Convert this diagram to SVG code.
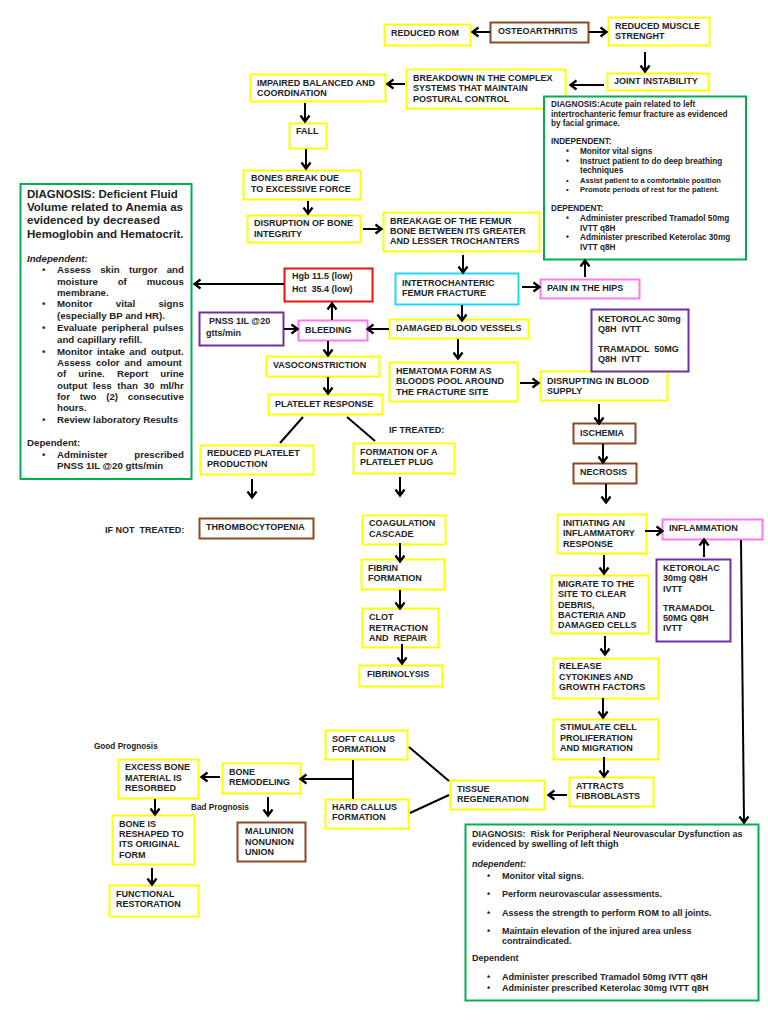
<svg xmlns="http://www.w3.org/2000/svg" width="768" height="1024" viewBox="0 0 768 1024">
<style>
text{font-family:"Liberation Sans",Arial,sans-serif;font-weight:bold;fill:#222;font-size:9px;white-space:pre}
rect{fill:#fff;stroke-width:2}
.y{stroke:#ffff00}.b{stroke:#8b4a24}.p{stroke:#ff78f0}.v{stroke:#7030a0}.g{stroke:#00b050}.r{stroke:#f01010}.c{stroke:#20d8f0}
.s{font-size:8.2px}.t{font-size:7.5px}.h{font-size:11.5px}.m{font-size:9.7px}.i{font-style:italic}
.l{stroke:#000;stroke-width:2;fill:none}.a{marker-end:url(#ah)}
</style>
<defs>
<marker id="ah" viewBox="0 0 12 12" refX="9" refY="6" markerWidth="12" markerHeight="12" markerUnits="userSpaceOnUse" orient="auto"><path d="M3.500,1.500 L9.500,6 L3.500,10.500" fill="none" stroke="#000" stroke-width="2.300"/></marker>
</defs>
<g id="n-rom"><rect class="y" x="384.500" y="24.500" width="86" height="21"/><text x="391" y="36">REDUCED ROM</text></g>
<g id="n-oa"><rect class="b" x="490.500" y="22.500" width="98" height="20"/><text x="498" y="34">OSTEOARTHRITIS</text></g>
<g id="n-muscle"><rect class="y" x="608.500" y="17.500" width="101" height="28"/><text x="615" y="29">REDUCED MUSCLE</text><text x="615" y="39">STRENGHT</text></g>
<g id="n-joint"><rect class="y" x="607.500" y="73.500" width="101" height="17"/><text x="614" y="84">JOINT INSTABILITY</text></g>
<g id="n-impaired"><rect class="y" x="250.500" y="74.500" width="135" height="27"/><text x="257" y="86">IMPAIRED BALANCED AND</text><text x="257" y="96">COORDINATION</text></g>
<g id="n-breakdown"><rect class="y" x="406.500" y="69.500" width="159" height="39"/><text x="413" y="81">BREAKDOWN IN THE COMPLEX</text><text x="413" y="91">SYSTEMS THAT MAINTAIN</text><text x="413" y="102">POSTURAL CONTROL</text></g>
<g id="n-dx-pain"><rect class="g" x="544" y="96.500" width="202" height="163"/>
<text class="s" x="551" y="107">DIAGNOSIS:Acute pain related to left</text><text class="s" x="551" y="117">intertrochanteric femur fracture as evidenced</text><text class="s" x="551" y="126">by facial grimace.</text><text class="s" x="551" y="144">INDEPENDENT:</text>
<text class="s" x="566" y="154">•</text><text class="s" x="580" y="154">Monitor vital signs</text>
<text class="s" x="566" y="164">•</text><text class="s" x="580" y="164">Instruct patient to do deep breathing</text><text class="s" x="580" y="173">techniques</text>
<text class="t" x="566" y="183">•</text><text class="t" x="580" y="183">Assist patient to a comfortable position</text>
<text class="t" x="566" y="192">•</text><text class="t" x="580" y="192">Promote periods of rest for the patient.</text>
<text class="s" x="551" y="211">DEPENDENT:</text>
<text class="s" x="566" y="221">•</text><text class="s" x="580" y="221">Administer prescribed Tramadol 50mg</text><text class="s" x="580" y="231">IVTT q8H</text>
<text class="s" x="566" y="240">•</text><text class="s" x="580" y="240">Administer prescribed Keterolac 30mg</text><text class="s" x="580" y="250">IVTT q8H</text></g>
<g id="n-fall"><rect class="y" x="289.500" y="123.500" width="37" height="25"/><text x="296" y="134">FALL</text></g>
<g id="n-bones"><rect class="y" x="243.500" y="170.500" width="117" height="29"/><text x="251" y="181">BONES BREAK DUE</text><text x="251" y="192">TO EXCESSIVE FORCE</text></g>
<g id="n-disruption"><rect class="y" x="247.500" y="215.500" width="113" height="27"/><text x="254" y="226">DISRUPTION OF BONE</text><text x="254" y="237">INTEGRITY</text></g>
<g id="n-breakage"><rect class="y" x="383.500" y="212.500" width="156" height="39"/><text x="390" y="224">BREAKAGE OF THE FEMUR</text><text x="390" y="234">BONE BETWEEN ITS GREATER</text><text x="390" y="244">AND LESSER TROCHANTERS</text></g>
<g id="n-dx-fluid"><rect class="g" x="20.500" y="184" width="171" height="295"/>
<text class="h" x="27" y="198">DIAGNOSIS: Deficient Fluid</text><text class="h" x="27" y="211">Volume related to Anemia as</text><text class="h" x="27" y="224">evidenced by decreased</text><text class="h" x="27" y="238">Hemoglobin and Hematocrit.</text>
<text class="m i" x="27" y="262">Independent:</text>
<text class="m" x="42" y="273">•</text><text class="m" x="57" y="273" word-spacing="6.6">Assess skin turgor and</text>
<text class="m" x="57" y="285" word-spacing="17.1">moisture of mucous</text>
<text class="m" x="57" y="296">membrane.</text>
<text class="m" x="42" y="307">•</text><text class="m" x="57" y="307" word-spacing="20.6">Monitor vital signs</text>
<text class="m" x="57" y="319">(especially BP and HR).</text>
<text class="m" x="42" y="331">•</text><text class="m" x="57" y="331" word-spacing="2">Evaluate peripheral pulses</text>
<text class="m" x="57" y="343">and capillary refill.</text>
<text class="m" x="42" y="355">•</text><text class="m" x="57" y="355" word-spacing="1.7">Monitor intake and output.</text>
<text class="m" x="57" y="366" word-spacing="2.3">Assess color and amount</text>
<text class="m" x="57" y="377" word-spacing="9.5">of urine. Report urine</text>
<text class="m" x="57" y="389" word-spacing="3">output less than 30 ml/hr</text>
<text class="m" x="57" y="400" word-spacing="7.1">for two (2) consecutive</text>
<text class="m" x="57" y="411">hours.</text>
<text class="m" x="42" y="423">•</text><text class="m" x="57" y="423">Review laboratory Results</text>
<text class="m" x="27" y="446">Dependent:</text>
<text class="m" x="42" y="458">•</text><text class="m" x="57" y="458" word-spacing="24">Administer prescribed</text>
<text class="m" x="57" y="469">PNSS 1IL @20 gtts/min</text></g>
<g id="n-hgb"><rect class="r" x="284.500" y="268.500" width="88" height="33"/><text x="292" y="279">Hgb 11.5 (low)</text><text x="292" y="292">Hct  35.4 (low)</text></g>
<g id="n-fracture"><rect class="c" x="395.500" y="273.500" width="123" height="31"/><text x="402" y="286">INTETROCHANTERIC</text><text x="402" y="296">FEMUR FRACTURE</text></g>
<g id="n-pain"><rect class="p" x="540.500" y="279.500" width="99" height="19"/><text x="547" y="291">PAIN IN THE HIPS</text></g>
<g id="n-pnss"><rect class="v" x="199.500" y="312.500" width="84" height="33"/><text x="209" y="324">PNSS 1IL @20</text><text x="206" y="336">gtts/min</text></g>
<g id="n-bleeding"><rect class="p" x="298.500" y="320.500" width="69" height="20"/><text x="305" y="333">BLEEDING</text></g>
<g id="n-vessels"><rect class="y" x="389.500" y="319.500" width="139" height="19"/><text x="396" y="331">DAMAGED BLOOD VESSELS</text></g>
<g id="n-vaso"><rect class="y" x="266.500" y="356.500" width="113" height="20"/><text x="273" y="368">VASOCONSTRICTION</text></g>
<g id="n-hematoma"><rect class="y" x="389.500" y="362.500" width="128" height="39"/><text x="396" y="374">HEMATOMA FORM AS</text><text x="396" y="384">BLOODS POOL AROUND</text><text x="396" y="395">THE FRACTURE SITE</text></g>
<g id="n-supply"><rect class="y" x="540.500" y="371.500" width="127" height="29"/><text x="547" y="384">DISRUPTING IN BLOOD</text><text x="547" y="394">SUPPLY</text></g>
<g id="n-drug1"><rect class="v" x="591.500" y="309.500" width="97" height="62"/><text x="598" y="322">KETOROLAC 30mg</text><text x="598" y="332">Q8H  IVTT</text><text x="598" y="352">TRAMADOL  50MG</text><text x="598" y="362">Q8H  IVTT</text></g>
<g id="n-platelet"><rect class="y" x="268.500" y="394.500" width="114" height="20"/><text x="275" y="407">PLATELET RESPONSE</text></g>
<g id="n-ischemia"><rect class="b" x="573.500" y="423.500" width="62" height="20"/><text x="580" y="436">ISCHEMIA</text></g>
<text id="l-treated" x="389" y="433">IF TREATED:</text>
<g id="n-reduced"><rect class="y" x="200.500" y="445.500" width="113" height="29"/><text x="207" y="456">REDUCED PLATELET</text><text x="207" y="467">PRODUCTION</text></g>
<g id="n-plug"><rect class="y" x="353.500" y="443.500" width="101" height="30"/><text x="360" y="455">FORMATION OF A</text><text x="360" y="465">PLATELET PLUG</text></g>
<g id="n-necrosis"><rect class="b" x="573.500" y="463.500" width="63" height="20"/><text x="580" y="475">NECROSIS</text></g>
<text id="l-nottreated" x="105" y="533">IF NOT  TREATED:</text>
<g id="n-thrombo"><rect class="b" x="199.500" y="518.500" width="114" height="20"/><text x="206" y="530">THROMBOCYTOPENIA</text></g>
<g id="n-coag"><rect class="y" x="362.500" y="515.500" width="83" height="29"/><text x="369" y="526">COAGULATION</text><text x="369" y="537">CASCADE</text></g>
<g id="n-fibrin"><rect class="y" x="361.500" y="559.500" width="83" height="30"/><text x="368" y="571">FIBRIN</text><text x="368" y="581">FORMATION</text></g>
<g id="n-clot"><rect class="y" x="362.500" y="608.500" width="76" height="39"/><text x="369" y="620">CLOT</text><text x="369" y="631">RETRACTION</text><text x="369" y="641">AND  REPAIR</text></g>
<g id="n-lysis"><rect class="y" x="359.500" y="665.500" width="83" height="21"/><text x="367" y="677">FIBRINOLYSIS</text></g>
<g id="n-init"><rect class="y" x="557.500" y="514.500" width="89" height="39"/><text x="563" y="526">INITIATING AN</text><text x="563" y="536">INFLAMMATORY</text><text x="563" y="547">RESPONSE</text></g>
<g id="n-inflam"><rect class="p" x="662.500" y="519.500" width="100" height="20"/><text x="669" y="531">INFLAMMATION</text></g>
<g id="n-drug2"><rect class="v" x="656.500" y="559.500" width="74" height="82"/><text x="663" y="571">KETOROLAC</text><text x="663" y="581">30mg Q8H</text><text x="663" y="592">IVTT</text><text x="663" y="611">TRAMADOL</text><text x="663" y="621">50MG Q8H</text><text x="663" y="631">IVTT</text></g>
<g id="n-migrate"><rect class="y" x="551.500" y="575.500" width="97" height="58"/><text x="558" y="587">MIGRATE TO THE</text><text x="558" y="597">SITE TO CLEAR</text><text x="558" y="608">DEBRIS,</text><text x="558" y="618">BACTERIA AND</text><text x="558" y="628">DAMAGED CELLS</text></g>
<g id="n-release"><rect class="y" x="553.500" y="658.500" width="105" height="40"/><text x="559" y="669">RELEASE</text><text x="559" y="680">CYTOKINES AND</text><text x="559" y="690">GROWTH FACTORS</text></g>
<g id="n-stim"><rect class="y" x="553.500" y="719.500" width="105" height="40"/><text x="560" y="730">STIMULATE CELL</text><text x="560" y="741">PROLIFERATION</text><text x="560" y="751">AND MIGRATION</text></g>
<g id="n-attracts"><rect class="y" x="569.500" y="777.500" width="84" height="29"/><text x="576" y="789">ATTRACTS</text><text x="576" y="799">FIBROBLASTS</text></g>
<g id="n-tissue"><rect class="y" x="450.500" y="780.500" width="94" height="29"/><text x="457" y="792">TISSUE</text><text x="457" y="802">REGENERATION</text></g>
<g id="n-soft"><rect class="y" x="325.500" y="730.500" width="82" height="29"/><text x="332" y="742">SOFT CALLUS</text><text x="332" y="752">FORMATION</text></g>
<g id="n-hard"><rect class="y" x="325.500" y="799.500" width="83" height="29"/><text x="332" y="810">HARD CALLUS</text><text x="332" y="820">FORMATION</text></g>
<g id="n-remodel"><rect class="y" x="222.500" y="763.500" width="78" height="30"/><text x="229" y="775">BONE</text><text x="229" y="785">REMODELING</text></g>
<text id="l-good" class="s" x="94" y="749">Good Prognosis</text>
<text id="l-bad" class="s" x="191" y="810">Bad Prognosis</text>
<g id="n-excess"><rect class="y" x="118.500" y="759.500" width="80" height="39"/><text x="125" y="770">EXCESS BONE</text><text x="125" y="781">MATERIAL IS</text><text x="125" y="791">RESORBED</text></g>
<g id="n-reshape"><rect class="y" x="112.500" y="815.500" width="82" height="49"/><text x="119" y="827">BONE IS</text><text x="119" y="837">RESHAPED TO</text><text x="119" y="847">ITS ORIGINAL</text><text x="119" y="858">FORM</text></g>
<g id="n-malunion"><rect class="b" x="237.500" y="822.500" width="68" height="39"/><text x="245" y="834">MALUNION</text><text x="245" y="845">NONUNION</text><text x="245" y="855">UNION</text></g>
<g id="n-restore"><rect class="y" x="109.500" y="885.500" width="89" height="31"/><text x="116" y="897">FUNCTIONAL</text><text x="116" y="907">RESTORATION</text></g>
<g id="n-dx-neuro"><rect class="g" x="465.500" y="824.500" width="293" height="176"/>
<text x="472" y="837">DIAGNOSIS:  Risk for Peripheral Neurovascular Dysfunction as</text><text x="472" y="847">evidenced by swelling of left thigh</text>
<text class="i" x="472" y="867">ndependent:</text>
<text x="487" y="879">•</text><text x="502" y="879">Monitor vital signs.</text>
<text x="487" y="897">•</text><text x="502" y="897">Perform neurovascular assessments.</text>
<text x="487" y="916">•</text><text x="502" y="916">Assess the strength to perform ROM to all joints.</text>
<text x="487" y="934">•</text><text x="502" y="934">Maintain elevation of the injured area unless</text><text x="502" y="944">contraindicated.</text>
<text x="472" y="961">Dependent</text>
<text x="487" y="980">•</text><text x="502" y="980">Administer prescribed Tramadol 50mg IVTT q8H</text>
<text x="487" y="991">•</text><text x="502" y="991">Administer prescribed Keterolac 30mg IVTT q8H</text></g>
<g id="connectors">
<path class="l a" d="M490,32H473"/><path class="l a" d="M589,32H606"/><path class="l a" d="M645,52V71"/><path class="l a" d="M604,85H571"/><path class="l a" d="M405,84H388"/>
<path class="l a" d="M305,103V121"/><path class="l a" d="M306,149V168"/><path class="l a" d="M308,201V213"/><path class="l a" d="M363,229H381"/>
<path class="l a" d="M463,255V272"/><path class="l a" d="M522,287H539"/><path class="l a" d="M585,277V261"/><path class="l a" d="M462,305V320"/><path class="l a" d="M458,339V358"/>
<path class="l a" d="M389,329H368"/><path class="l a" d="M284,284H195"/><path class="l a" d="M332,320V304"/><path class="l a" d="M284,329H297"/><path class="l a" d="M328,341V355"/><path class="l a" d="M328,377V393"/>
<path class="l" d="M303,417L280,443"/><path class="l" d="M347,417L375,441"/>
<path class="l a" d="M252,479V497"/><path class="l a" d="M400,477V495"/><path class="l a" d="M400,543V561"/><path class="l a" d="M400,590V608"/><path class="l a" d="M402,644V663"/>
<path class="l a" d="M520,383H538"/><path class="l a" d="M599,404V423"/><path class="l a" d="M603,444V462"/><path class="l a" d="M606,484V502"/>
<path class="l a" d="M645,531H662"/><path class="l a" d="M704,557V540"/><path class="l a" d="M741,540L744,822"/>
<path class="l a" d="M604,555V573"/><path class="l a" d="M605,636V654"/><path class="l a" d="M603,698V717"/><path class="l a" d="M604,757V776"/><path class="l a" d="M567,795H549"/>
<path class="l" d="M409,747L449,781"/><path class="l" d="M410,813L449,795"/><path class="l" d="M353,760V799"/><path class="l a" d="M353,779H301"/>
<path class="l a" d="M220,777H202"/><path class="l a" d="M268,797V815"/><path class="l a" d="M155,799V814"/><path class="l a" d="M152,868V884"/>
</g>
</svg>
